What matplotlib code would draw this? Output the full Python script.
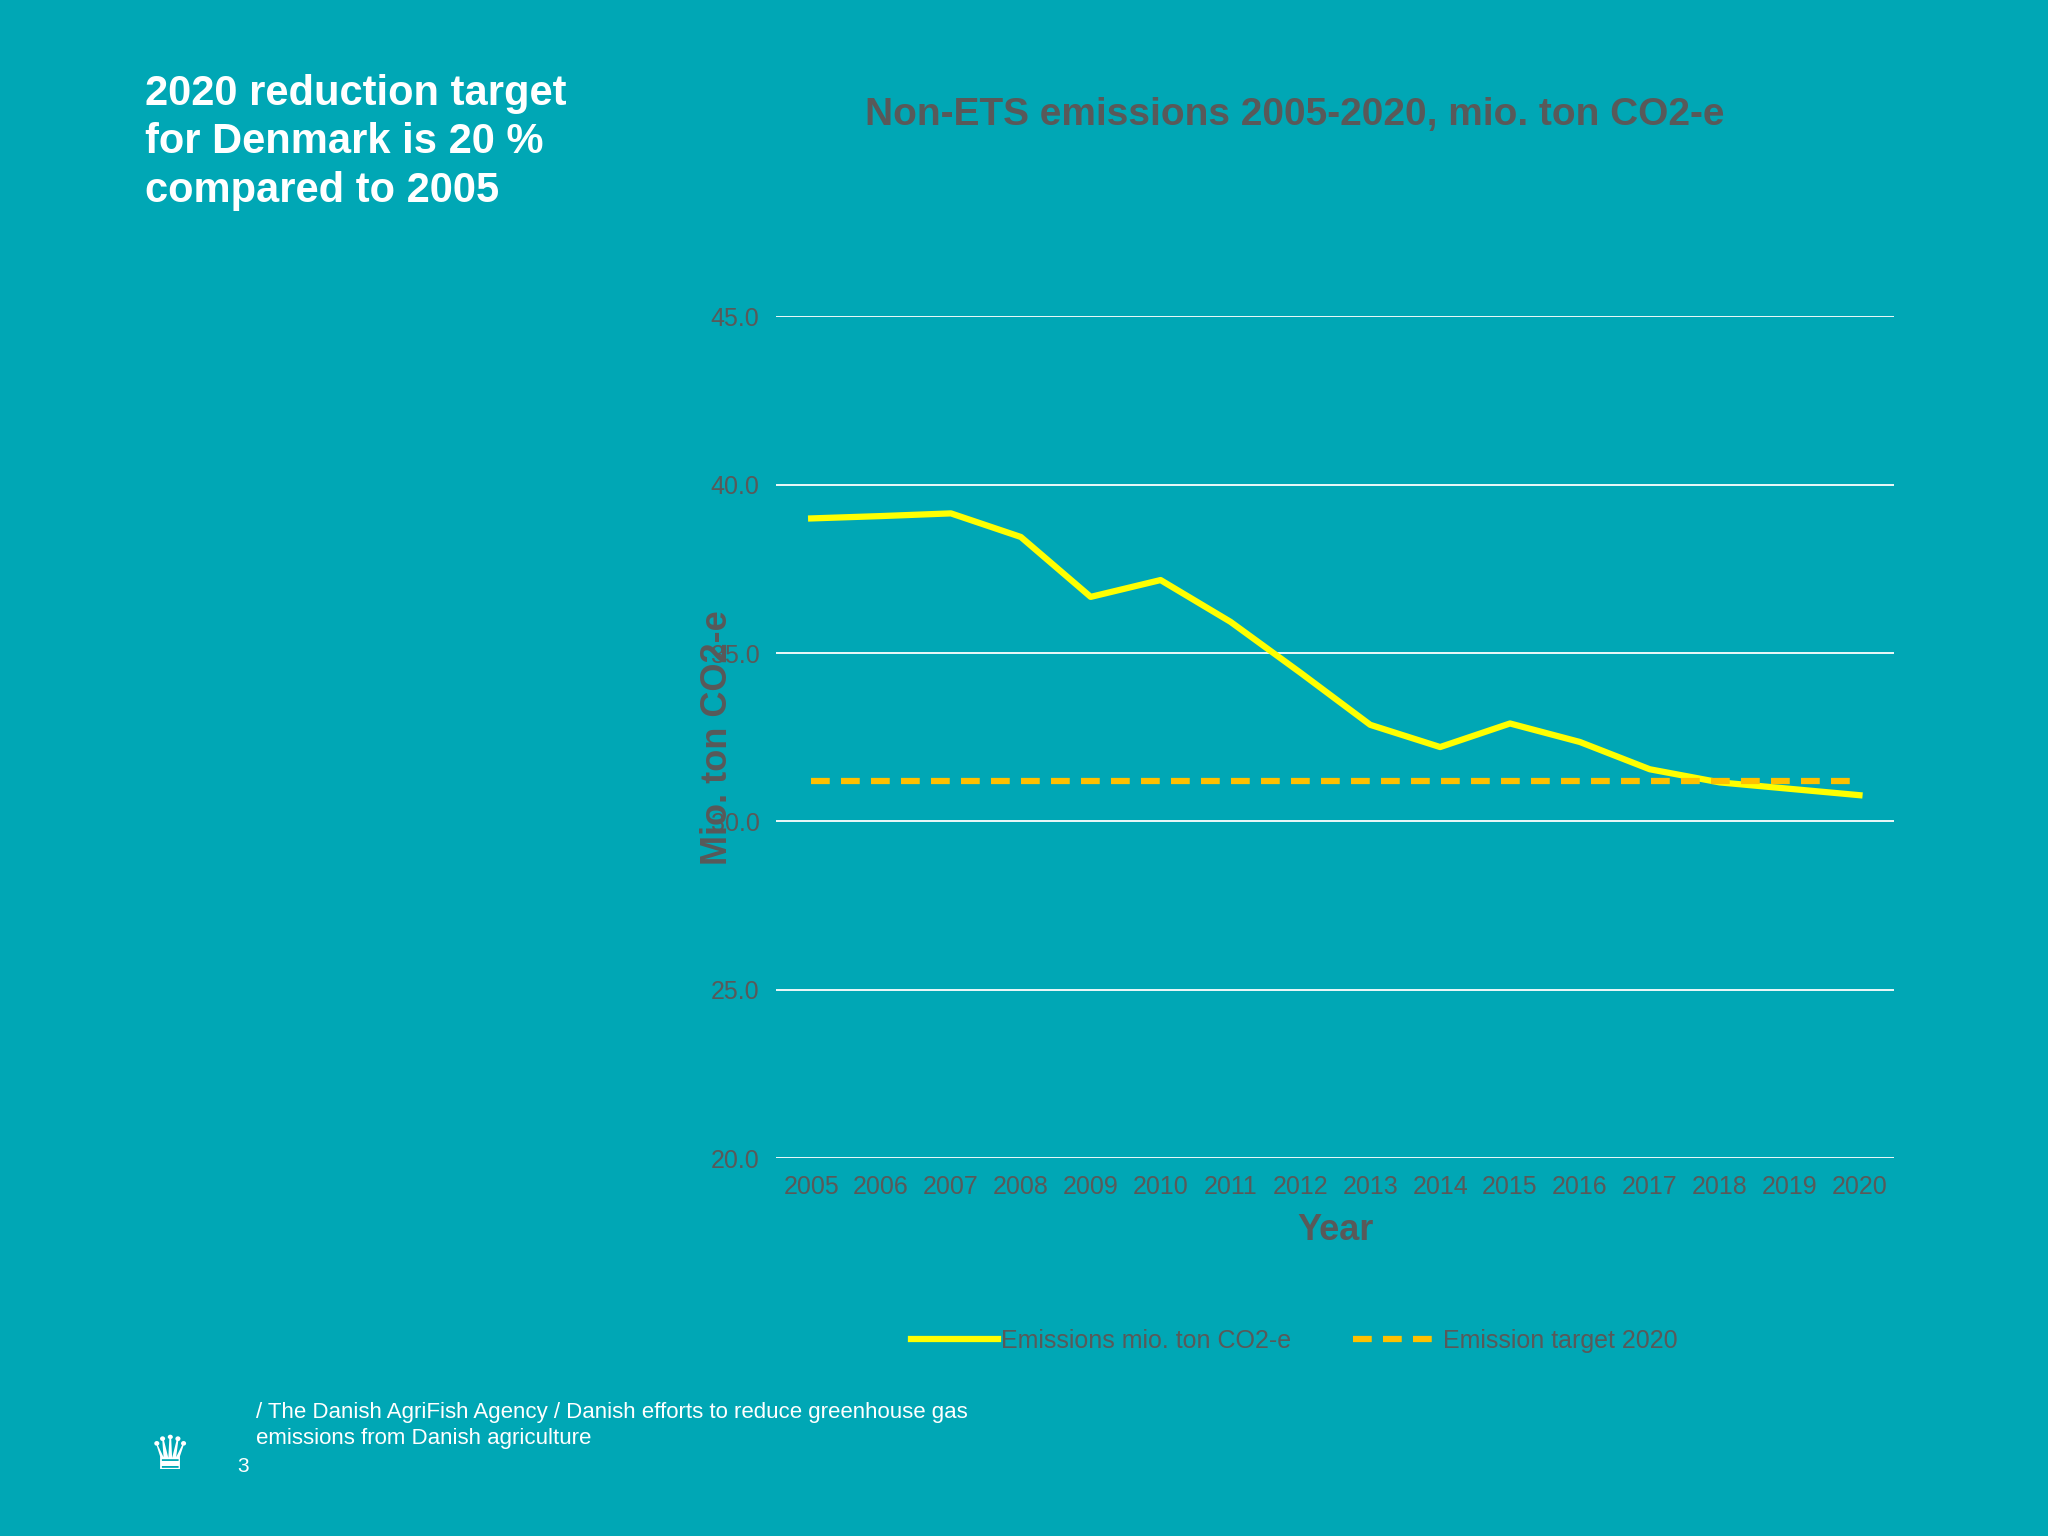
import matplotlib.pyplot as plt

plt.rcParams['font.family'] = ['Liberation Sans', 'DejaVu Sans']

years = list(range(2005, 2021))
emissions = [39.0, 39.07, 39.15, 38.45, 36.67, 37.17, 35.93, 34.42, 32.87, 32.21,
             32.91, 32.36, 31.55, 31.16, 30.97, 30.78]
target = [31.2] * len(years)
yticks = [20, 25, 30, 35, 40, 45]

BG = "#00A7B5"
GRAY = "#595959"

fig = plt.figure(figsize=(20.48, 15.36), dpi=100, facecolor=BG)
ax = fig.add_axes([0.379, 0.246, 0.546, 0.548], facecolor=BG)

ax.plot(years, emissions, color="#FFFF00", lw=4.5, label="Emissions mio. ton CO2-e")
ax.plot(years, target, color="#FFC000", lw=4.5, ls=(0, (3, 1.8)), label="Emission target 2020")

ax.set_ylim(20, 45)
ax.set_xlim(2004.5, 2020.5)
ax.set_yticks(yticks)
ax.set_yticklabels([f"{v:.1f}" for v in yticks])
ax.set_xticks(years)
ax.grid(axis="y", color="white", lw=1.3)
ax.set_axisbelow(True)
for s in ax.spines.values():
    s.set_visible(False)
ax.tick_params(length=0, colors=GRAY, labelsize=18, pad=12)
ax.set_xlabel("Year", color=GRAY, fontsize=26, fontweight="bold", labelpad=10)
ax.set_ylabel("Mio. ton CO2-e", color=GRAY, fontsize=26, fontweight="bold")
ax.yaxis.set_label_coords(-0.037, 0.5)

fig.text(0.632, 0.925, "Non-ETS emissions 2005-2020, mio. ton CO2-e", color=GRAY,
         fontsize=28, fontweight="bold", ha="center", va="center")
fig.text(0.071, 0.952, "2020 reduction target\nfor Denmark is 20 %\ncompared to 2005",
         color="white", fontsize=30, fontweight="bold", ha="left", va="top", linespacing=1.28)

leg = fig.legend(loc="center", bbox_to_anchor=(0.632, 0.127), ncol=2, frameon=False,
                 fontsize=18, handlelength=3.5, handletextpad=0.1, columnspacing=2.5)
for t in leg.get_texts():
    t.set_color(GRAY)

fig.text(0.125, 0.072, "/ The Danish AgriFish Agency / Danish efforts to reduce greenhouse gas\nemissions from Danish agriculture",
         color="white", fontsize=16, ha="left", va="center", linespacing=1.3)
fig.text(0.116, 0.045, "3", color="white", fontsize=15, ha="left", va="center")
fig.text(0.083, 0.052, "♛", color="white", fontsize=34, ha="center", va="center",
         family=['DejaVu Sans'])

fig.savefig("out.png", facecolor=BG)
